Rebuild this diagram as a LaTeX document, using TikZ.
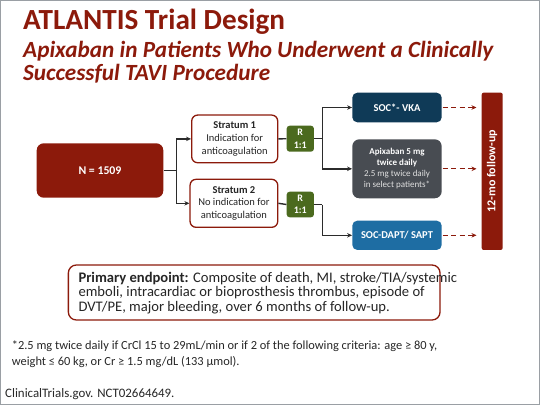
\documentclass[tikz,border=0pt]{standalone}
\usepackage{fontspec}
\setmainfont{Carlito}
\usetikzlibrary{arrows.meta}
\definecolor{dred}{HTML}{8C1A0B}
\definecolor{navy}{HTML}{0F3A57}
\definecolor{dgray}{HTML}{484C52}
\definecolor{mblue}{HTML}{1E6DA3}
\definecolor{dgreen}{HTML}{4B6A1E}
\definecolor{frame}{HTML}{9A9FA4}
\definecolor{conn}{HTML}{2B2B2B}
\tikzset{
  box/.style={rounded corners=5pt, inner sep=0pt, align=center, text=white, font=\bfseries\fontsize{10.5}{12.5}\selectfont},
  strat/.style={draw=dred, line width=1.3pt, fill=white, rounded corners=6pt, inner sep=0pt, align=center, font=\fontsize{10.5}{12.7}\selectfont, text=black!85},
  rbox/.style={fill=dgreen, rounded corners=3pt, inner sep=0pt, align=center, text=white, font=\bfseries\fontsize{10}{12.4}\selectfont},
  conline/.style={draw=conn, line width=1.4pt},
  conarrow/.style={conline, -{Stealth[length=5pt,width=4.5pt]}},
  dasharrow/.style={draw=dred, line width=1.3pt, dash pattern=on 5pt off 3.5pt, -{Stealth[length=5pt,width=4.5pt]}, shorten >=5pt, shorten <=0.6pt},
  plain/.style={anchor=base west, inner sep=0pt, text=black!85},
}
\begin{document}
\begin{tikzpicture}[x=1pt,y=-1pt]
\useasboundingbox (0,0) rectangle (540,405);
\draw[frame, line width=1pt] (0.5,0.5) rectangle (539.5,404.5);
% titles
\node[anchor=base west, inner sep=0pt, text=dred, font=\bfseries\fontsize{29.2}{30}\selectfont] (title) at (23,29.3) {ATLANTIS Trial Design};
\node[anchor=base west, inner sep=0pt, text=dred, font=\bfseries\itshape\fontsize{23.2}{23}\selectfont] (sub1) at (23,57.3) {Apixaban in Patients Who Underwent a Clinically};
\node[anchor=base west, inner sep=0pt, text=dred, font=\bfseries\itshape\fontsize{23.2}{23}\selectfont] (sub2) at (23,80.3) {Successful TAVI Procedure};
% N box
\node[box, fill=dred, minimum width=126.6pt, minimum height=54.4pt, rounded corners=7pt, font=\bfseries\fontsize{11.8}{13}\selectfont] (n) at (100,170.5) {N = 1509};
% strata
\node[strat, minimum width=86pt, minimum height=47.7pt] (s1) at (234.7,138.9) {\textbf{Stratum 1}\\Indication for\\anticoagulation};
\node[strat, minimum width=87.7pt, minimum height=48pt] (s2) at (233.9,203.3) {\textbf{Stratum 2}\\No indication for\\anticoagulation};
% R boxes
\node[rbox, minimum width=27.3pt, minimum height=26pt] (r1) at (300.3,138.7) {R\\1:1};
\node[rbox, minimum width=27.3pt, minimum height=25.6pt] (r2) at (300.3,204.5) {R\\1:1};
% treatment boxes
\node[box, fill=navy, minimum width=89.4pt, minimum height=29.6pt] (vka) at (397,107.5) {SOC*- VKA};
\node[box, fill=dgray, minimum width=89.4pt, minimum height=59pt, rounded corners=7pt, text=white!88!black, font=\fontsize{9}{11.1}\selectfont] (apx) at (397,168.8) {\textbf{\color{white}Apixaban 5 mg}\\\textbf{\color{white}twice daily}\\2.5 mg twice daily\\in select patients*};
\node[box, fill=mblue, minimum width=89.4pt, minimum height=29.3pt] (dapt) at (397,235.3) {SOC-DAPT/ SAPT};
% follow-up bar
\node[fill=dred, minimum width=21pt, minimum height=157.3pt, inner sep=0pt, rounded corners=2pt] (fu) at (492.2,171.3) {};
\node[rotate=90, text=white, font=\bfseries\fontsize{12}{14}\selectfont, inner sep=0pt] (fut) at (fu.center) {12-mo follow-up};
% connectors left
\coordinate (j1) at (176.7,170.5);
\draw[conline] (n.east) -- (j1);
\draw[conarrow] (j1) |- (s1.west);
\draw[conarrow] (j1) |- (s2.west);
\draw[conline] (s1.east) -- (r1.west);
\draw[conline] (s2.east) -- (r2.west);
% connectors right
\coordinate (j2) at (322.3,138.7);
\coordinate (j3) at (322.3,204.5);
\draw[conline] (r1.east) -- (j2);
\draw[conline] (r2.east) -- (j3);
\draw[conarrow] (j2) |- (vka.west);
\draw[conarrow] (j3) |- (dapt.west);
\draw[conarrow] (j2) |- (apx.west);
% dashed arrows
\draw[dasharrow] (vka.east) -- (vka.east -| fu.west);
\draw[dasharrow] (apx.east) -- (apx.east -| fu.west);
\draw[dasharrow] (dapt.east) -- (dapt.east -| fu.west);
% primary endpoint
\node[draw=dred, line width=1.3pt, fill=white, rounded corners=8pt, minimum width=371.7pt, minimum height=55pt, inner sep=0pt] (pe) at (254.2,292.5) {};
\node[plain, font=\fontsize{14.6}{14.3}\selectfont, align=left] (pet) at (78.3,311) {\textbf{Primary endpoint:} Composite of death, MI, stroke/TIA/systemic\\emboli, intracardiac or bioprosthesis thrombus, episode of\\DVT/PE, major bleeding, over 6 months of follow-up.};
% footnotes
\node[plain, font=\fontsize{12.4}{16}\selectfont] (fn1) at (11.7,349.3) {*2.5 mg twice daily if CrCl 15 to 29mL/min or if 2 of the following criteria: age ≥ 80 y,};
\node[plain, font=\fontsize{12.4}{16}\selectfont] (fn2) at (11.7,365.8) {weight ≤ 60 kg, or Cr ≥ 1.5 mg/dL (133 µmol).};
\node[plain, font=\fontsize{12.9}{14}\selectfont] (ref) at (5,397.7) {ClinicalTrials.gov. NCT02664649.};
\end{tikzpicture}
\end{document}
